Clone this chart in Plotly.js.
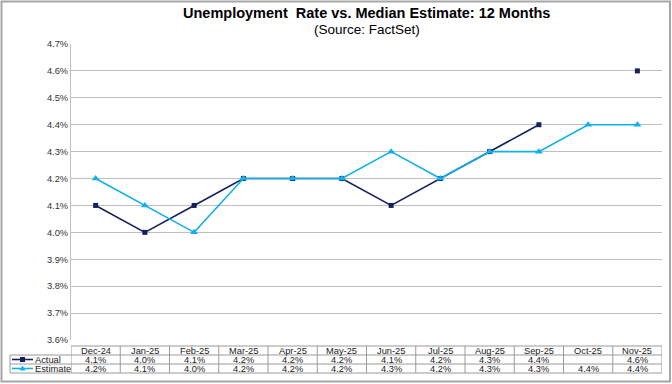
<!DOCTYPE html>
<html>
<head>
<meta charset="utf-8">
<script src="https://cdn.plot.ly/plotly-3.0.1.min.js"></script>
<style>
html,body{margin:0;padding:0;background:#fff;}
#chart{width:672px;height:384px;}
</style>
</head>
<body>
<div id="chart"></div>
<script>
const months = ["Dec-24","Jan-25","Feb-25","Mar-25","Apr-25","May-25","Jun-25","Jul-25","Aug-25","Sep-25","Oct-25","Nov-25"];
const actual = [4.1,4.0,4.1,4.2,4.2,4.2,4.1,4.2,4.3,4.4,null,4.6];
const estimate = [4.2,4.1,4.0,4.2,4.2,4.2,4.3,4.2,4.3,4.3,4.4,4.4];
const seriesNames = ["Actual","Estimate"];
const yTicks = [3.6,3.7,3.8,3.9,4.0,4.1,4.2,4.3,4.4,4.5,4.6,4.7];

const W = 672, H = 384;
const M = {l:71, r:10, t:44, b:44};
const PW = W - M.l - M.r, PH = H - M.t - M.b;
const axisBottom = H - M.b;
const py = y => (axisBottom - y) / PH;   // pixel y -> paper y
const px = x => (x - M.l) / PW;          // pixel x -> paper x

const navy = "#16215C";
const cyan = "#12B0EC";
const grid = "#BFBFBF";
const border = "#9A9A9A";
const txt = "#222222";
const FONT = "Liberation Sans, Arial";
const tblSize = 9.3;

const traces = [
  {x: months, y: actual, name: seriesNames[0], type: "scatter", mode: "lines+markers",
   line: {color: navy, width: 1.6}, marker: {symbol: "square", size: 5, color: navy}, connectgaps: false},
  {x: months, y: estimate, name: seriesNames[1], type: "scatter", mode: "lines+markers",
   line: {color: cyan, width: 1.6}, marker: {symbol: "triangle-up", size: 7, color: cyan}}
];

const rowB = [346, 355, 364, 373];
const shapes = [];
const annotations = [];
// horizontal table lines
shapes.push({type:"line", xref:"paper", yref:"paper", x0:0, x1:1, y0:py(rowB[0]), y1:py(rowB[0]), line:{color:border, width:1}});
for (let k = 1; k < rowB.length; k++) {
  shapes.push({type:"line", xref:"paper", yref:"paper", x0:px(10), x1:1, y0:py(rowB[k]), y1:py(rowB[k]), line:{color:border, width:1}});
}
// vertical table lines
for (let i = 0; i <= months.length; i++) {
  shapes.push({type:"line", xref:"x", yref:"paper", x0:i-0.5, x1:i-0.5, y0:py(rowB[0]), y1:py(rowB[3]), line:{color:border, width:1}});
}
shapes.push({type:"line", xref:"paper", yref:"paper", x0:px(10), x1:px(10), y0:py(rowB[1]), y1:py(rowB[3]), line:{color:border, width:1}});
// outer frame
shapes.push({type:"rect", xref:"paper", yref:"paper", x0:px(1.5), x1:px(670), y0:py(1.5), y1:py(381.5), line:{color:"#A6A6A6", width:2}});

const rowC = [(rowB[0]+rowB[1])/2, (rowB[1]+rowB[2])/2, (rowB[2]+rowB[3])/2];
const fmt = v => (v === null || v === undefined) ? "" : v.toFixed(1) + "%";
months.forEach((m, i) => {
  annotations.push({x:m, xref:"x", y:py(rowC[0]), yref:"paper", text:m, showarrow:false, xanchor:"center", yanchor:"middle", font:{family:FONT, size:tblSize, color:txt}});
  annotations.push({x:m, xref:"x", y:py(rowC[1]), yref:"paper", text:fmt(actual[i]), showarrow:false, xanchor:"center", yanchor:"middle", font:{family:FONT, size:tblSize, color:txt}});
  annotations.push({x:m, xref:"x", y:py(rowC[2]), yref:"paper", text:fmt(estimate[i]), showarrow:false, xanchor:"center", yanchor:"middle", font:{family:FONT, size:tblSize, color:txt}});
});
// legend keys in table
const keyColors = [navy, cyan];
[0,1].forEach(k => {
  const yc = rowC[k+1];
  shapes.push({type:"line", xref:"paper", yref:"paper", x0:px(12), x1:px(33), y0:py(yc), y1:py(yc), line:{color:keyColors[k], width:1.6}});
  annotations.push({x:px(33), xref:"paper", y:py(yc), yref:"paper", text:seriesNames[k], showarrow:false, xanchor:"left", yanchor:"middle", font:{family:FONT, size:tblSize, color:txt}});
});
shapes.push({type:"rect", xref:"paper", yref:"paper", x0:px(20), x1:px(25), y0:py(rowC[1]-2.5), y1:py(rowC[1]+2.5), fillcolor:navy, line:{width:0}});
shapes.push({type:"path", xref:"paper", yref:"paper",
  path:`M ${px(19.5)} ${py(rowC[2]+2)} L ${px(25.5)} ${py(rowC[2]+2)} L ${px(22.5)} ${py(rowC[2]-3)} Z`, fillcolor:cyan, line:{width:0}});

// titles
annotations.push({x:0.5, xref:"paper", y:py(13), yref:"paper", xanchor:"center", yanchor:"middle", showarrow:false,
  text:"<b>Unemployment  Rate vs. Median Estimate: 12 Months</b>", font:{family:FONT, size:14.5, color:"#000"}});
annotations.push({x:0.5, xref:"paper", y:py(29.5), yref:"paper", xanchor:"center", yanchor:"middle", showarrow:false,
  text:"(Source: FactSet)", font:{family:FONT, size:13.5, color:"#000"}});

const layout = {
  width: W, height: H,
  margin: M,
  paper_bgcolor: "#fff", plot_bgcolor: "#fff",
  showlegend: false,
  xaxis: {type:"category", categoryarray: months, range:[-0.5, months.length-0.5], showticklabels:false, ticks:"", showgrid:false, zeroline:false, showline:false, fixedrange:true},
  yaxis: {range:[3.6, 4.7], tickvals: yTicks, ticktext: yTicks.map(v => v.toFixed(1) + "%"), showgrid:true, gridcolor:grid, gridwidth:1,
    zeroline:false, showline:true, linecolor:grid, linewidth:1, ticks:"", ticklen:0,
    tickfont:{family:FONT, size:9.3, color:"#333"}, fixedrange:true},
  shapes: shapes,
  annotations: annotations
};

Plotly.newPlot("chart", traces, layout, {displayModeBar:false, staticPlot:true});
</script>
</body>
</html>
